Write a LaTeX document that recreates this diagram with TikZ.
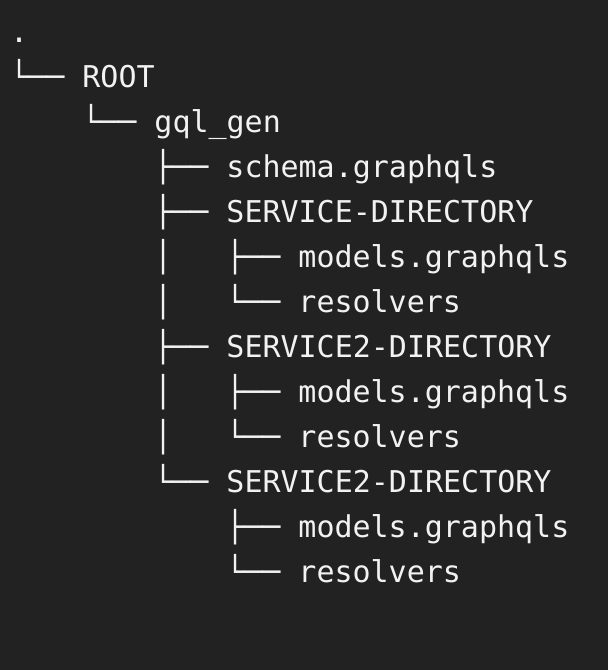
\documentclass[tikz,border=0pt]{standalone}
\usepackage{fontspec}
\setmonofont{DejaVu Sans Mono}
\definecolor{bg}{HTML}{222222}
\definecolor{fg}{HTML}{F2F2F2}
\begin{document}
\begin{tikzpicture}[x=1pt,y=1pt,
  ln/.style={anchor=base west,inner sep=0pt,text=fg,font=\ttfamily\fontsize{30}{36}\selectfont}]
\fill[bg] (0,0) rectangle (608,-670);
\useasboundingbox (0,0) rectangle (608,-670);
\def\cx#1{10+18*#1}
\node[ln] (dot) at (10,-42) {.};
\node[ln] (root) at ({\cx{0}},-87) {└── ROOT};
\node[ln] (gql) at ({\cx{4}},-132) {└── gql\_gen};
\node[ln] (schema) at ({\cx{8}},-177) {├── schema.graphqls};
\node[ln] (s1) at ({\cx{8}},-222) {├── SERVICE-DIRECTORY};
\node[ln] (v1) at ({\cx{8}},-267) {│};
\node[ln] (m1) at ({\cx{12}},-267) {├── models.graphqls};
\node[ln] (v2) at ({\cx{8}},-312) {│};
\node[ln] (r1) at ({\cx{12}},-312) {└── resolvers};
\node[ln] (s2) at ({\cx{8}},-357) {├── SERVICE2-DIRECTORY};
\node[ln] (v3) at ({\cx{8}},-402) {│};
\node[ln] (m2) at ({\cx{12}},-402) {├── models.graphqls};
\node[ln] (v4) at ({\cx{8}},-447) {│};
\node[ln] (r2) at ({\cx{12}},-447) {└── resolvers};
\node[ln] (s3) at ({\cx{8}},-492) {└── SERVICE2-DIRECTORY};
\node[ln] (m3) at ({\cx{12}},-537) {├── models.graphqls};
\node[ln] (r3) at ({\cx{12}},-582) {└── resolvers};
\end{tikzpicture}
\end{document}
